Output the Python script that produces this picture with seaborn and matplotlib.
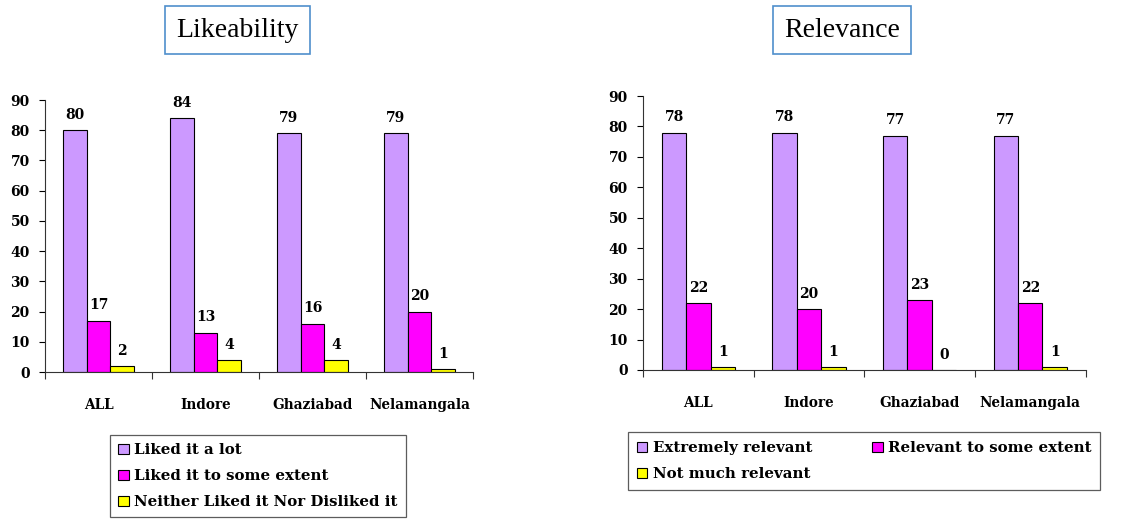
import matplotlib
matplotlib.use("Agg")
import matplotlib.pyplot as plt
import seaborn as sns
import pandas as pd
from matplotlib.ticker import FixedLocator

categories = ["ALL", "Indore", "Ghaziabad", "Nelamangala"]

like_series = ["Liked it a lot", "Liked it to some extent", "Neither Liked it Nor Disliked it"]
like_lot = [80, 84, 79, 79]
like_some = [17, 13, 16, 20]
like_neither = [2, 4, 4, 1]

rel_series = ["Extremely relevant", "Relevant to some extent", "Not much relevant"]
rel_extreme = [78, 78, 77, 77]
rel_some = [22, 20, 23, 22]
rel_not = [1, 1, 0, 1]

colors = ["#CC99FF", "#FF00FF", "#FFFF00"]
yticks = list(range(0, 100, 10))

sns.set_theme(style="white")
plt.rcParams["font.family"] = ["DejaVu Serif", "DejaVu Sans"]
plt.rcParams["text.color"] = "black"
plt.rcParams["xtick.color"] = "black"
plt.rcParams["ytick.color"] = "black"

FAM = ["DejaVu Serif", "DejaVu Sans"]
TICKF = {"family": FAM, "weight": "bold", "size": 9.8}


def long_df(series_names, value_lists):
    rows = []
    for name, vals in zip(series_names, value_lists):
        for c, v in zip(categories, vals):
            rows.append({"cat": c, "series": name, "val": v})
    return pd.DataFrame(rows)


fig = plt.figure(figsize=(11.22, 5.19), dpi=100)
fig.patch.set_facecolor("white")

ax1 = fig.add_axes([0.0401, 0.2832, 0.3815, 0.5241])
ax2 = fig.add_axes([0.5731, 0.2871, 0.3945, 0.5279])


def draw(ax, series_names, value_lists):
    df = long_df(series_names, value_lists)
    sns.barplot(data=df, x="cat", y="val", hue="series", order=categories,
                hue_order=series_names, palette=colors, edgecolor="black",
                linewidth=0.8, width=0.66, ax=ax, saturation=1)
    ax.set_ylim(0, 90)
    ax.set_xlim(-0.5, len(categories) - 0.5)
    ax.set_yticks(yticks)
    ax.set_yticklabels([str(t) for t in yticks], fontdict={"family": FAM, "weight": "bold", "size": 10})
    ax.set_xticks(range(len(categories)))
    ax.set_xticklabels(categories, fontdict=TICKF)
    ax.xaxis.set_minor_locator(FixedLocator([i - 0.5 for i in range(len(categories) + 1)]))
    ax.tick_params(axis="x", which="major", length=0, pad=19, colors="black")
    ax.tick_params(axis="x", which="minor", length=5, width=0.8, direction="out", bottom=True, color="#333333")
    ax.tick_params(axis="y", which="major", length=4, width=0.8, direction="out", left=True, pad=7, colors="black")
    ax.set_xlabel("")
    ax.set_ylabel("")
    for s in ["top", "right"]:
        ax.spines[s].set_visible(False)
    for s in ["left", "bottom"]:
        ax.spines[s].set_color("#333333")
        ax.spines[s].set_linewidth(0.8)
    for cont in ax.containers:
        ax.bar_label(cont, padding=6, fontsize=10, fontweight="bold", color="black", family=FAM)
    handles, labels = ax.get_legend_handles_labels()
    if ax.get_legend() is not None:
        ax.get_legend().remove()
    return handles, labels


h1, l1 = draw(ax1, like_series, [like_lot, like_some, like_neither])
h2, l2 = draw(ax2, rel_series, [rel_extreme, rel_some, rel_not])

leg_kw = dict(frameon=True, fancybox=False, handlelength=0.7,
              handleheight=0.7, handletextpad=0.35, borderaxespad=0,
              prop={"family": FAM, "weight": "bold", "size": 10.8},
              labelspacing=0.8, labelcolor="black")

leg1 = fig.legend(h1, l1, loc="upper left", bbox_to_anchor=(0.098, 0.162),
                  ncol=1, borderpad=0.55, **leg_kw)
order = [0, 2, 1]
leg2 = fig.legend([h2[i] for i in order], [l2[i] for i in order], loc="upper left",
                  bbox_to_anchor=(0.5597, 0.1676),
                  ncol=2, borderpad=0.6, columnspacing=4.0, **leg_kw)
for leg in (leg1, leg2):
    fr = leg.get_frame()
    fr.set_edgecolor("#333333")
    fr.set_linewidth(0.9)
    for h in leg.legend_handles:
        h.set_edgecolor("black")
        h.set_linewidth(0.8)

box = dict(boxstyle="square,pad=0.4", facecolor="white", edgecolor="#4F8FCC", linewidth=1.2)
fig.text(0.2117, 0.942, "Likeability", ha="center", va="center", fontsize=20, bbox=box,
         family=["Liberation Serif", "DejaVu Serif"], color="black")
fig.text(0.7504, 0.942, "Relevance", ha="center", va="center", fontsize=20, bbox=box,
         family=["Liberation Serif", "DejaVu Serif"], color="black")

fig.savefig("out.png", dpi=100)
